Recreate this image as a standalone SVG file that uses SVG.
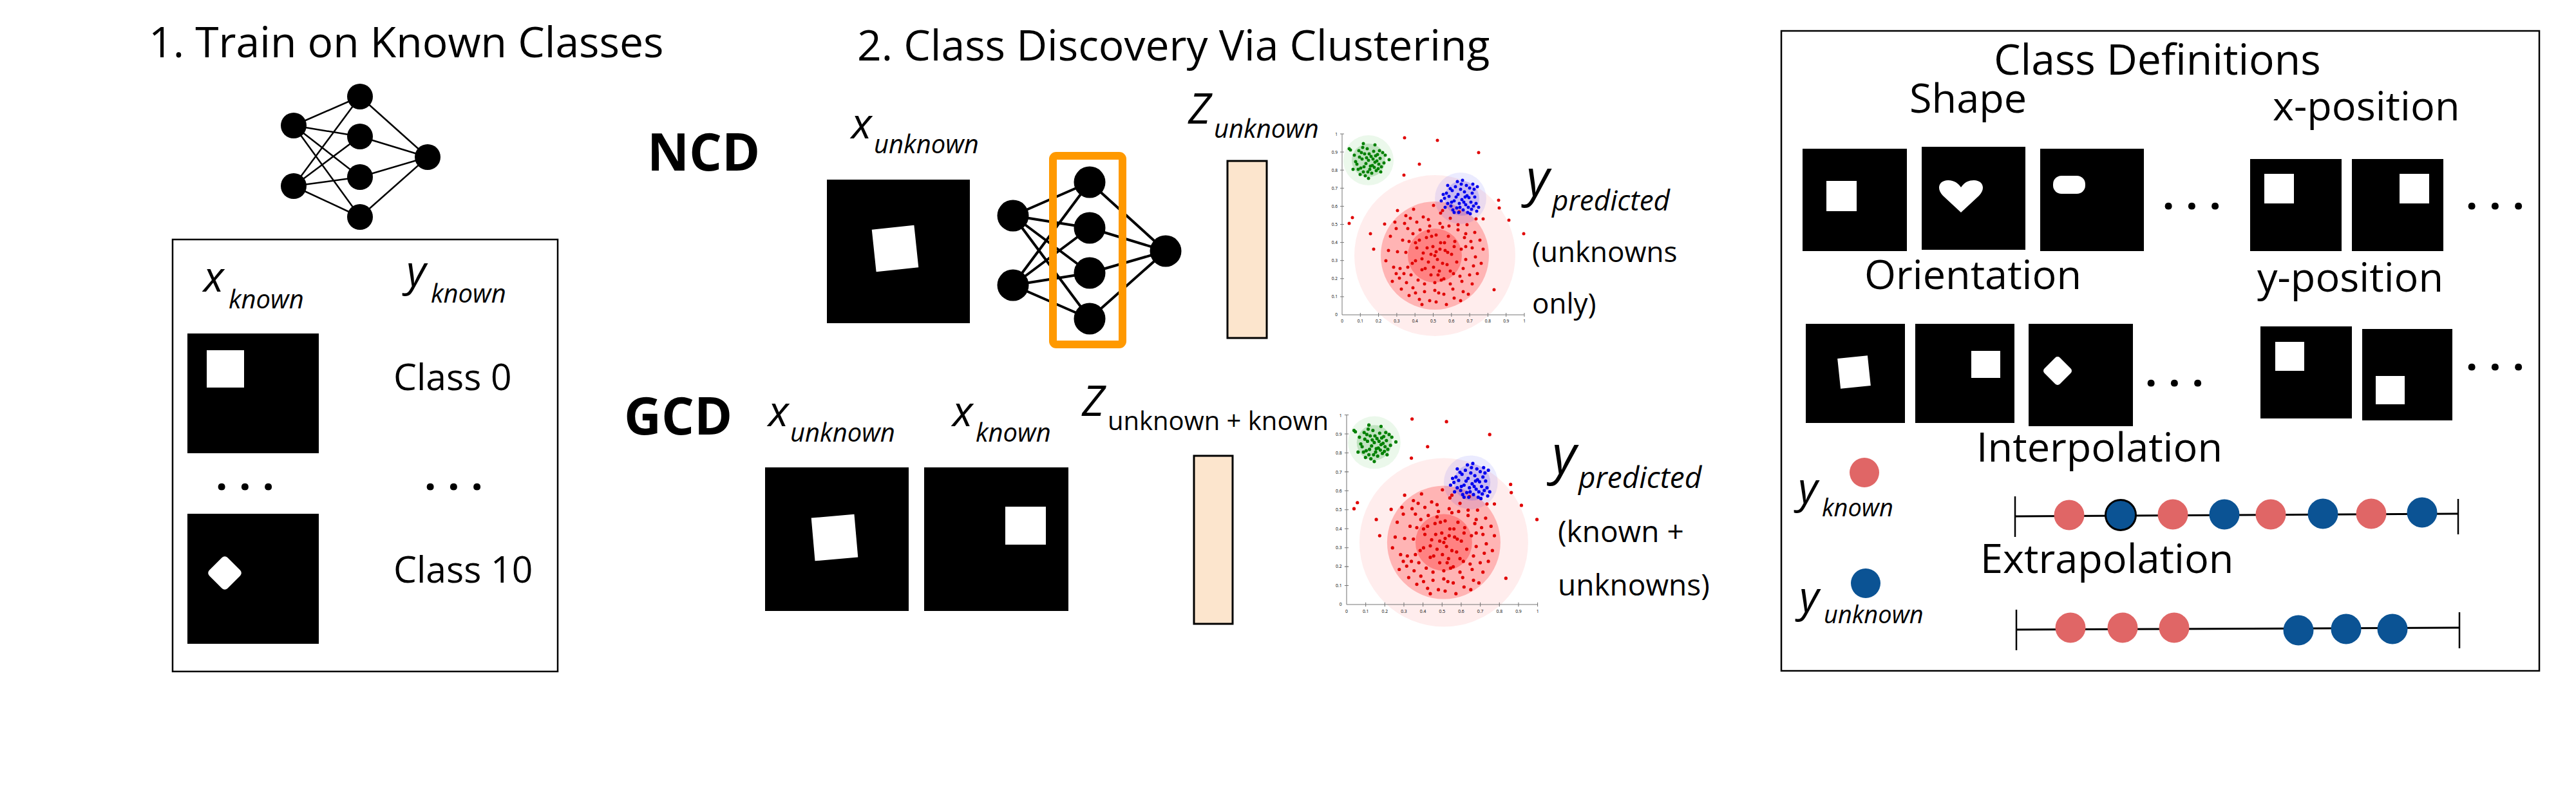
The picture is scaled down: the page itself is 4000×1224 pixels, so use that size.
<svg xmlns="http://www.w3.org/2000/svg" xmlns:xlink="http://www.w3.org/1999/xlink" width="4000" height="1224" viewBox="0 0 4000 1224">
<style>
text{font-family:"Open Sans","Noto Sans","DejaVu Sans",sans-serif;fill:#000}
.title{font-size:66px}
.lab{font-size:63px}
.big{font-size:80px;font-weight:700}
.it{font-style:italic}
.m{font-size:66px}
.s{font-size:40px}
.cls{font-size:57px}
.note{font-size:44px}
.dots{font-size:64px;font-weight:700;letter-spacing:18px}
.tick{font-size:6.5px;fill:#555}
.img{fill:#000}
.wh{fill:#fff}
.frame{fill:none;stroke:#000;stroke-width:2.5}
.node{fill:#000}
.e1{stroke:#000;stroke-width:2.5}
.e2{stroke:#000;stroke-width:4}
.zbar{fill:#FCE5CD;stroke:#000;stroke-width:3}
.kn{fill:#E06666}
.un{fill:#0B5394}
.axis{stroke:#000;stroke-width:3;fill:none}
.rd{stroke:#e00000;stroke-width:5;stroke-linecap:round;fill:none}
.gd{stroke:#008000;stroke-width:5;stroke-linecap:round;fill:none}
.bd{stroke:#0000ee;stroke-width:5;stroke-linecap:round;fill:none}
</style>
<defs>
<g id="plot">
<circle cx="144" cy="-92" r="125" fill="#ff0000" fill-opacity="0.07"/>
<circle cx="144" cy="-92" r="84" fill="#ff0000" fill-opacity="0.24"/>
<circle cx="144" cy="-92" r="42" fill="#ff0000" fill-opacity="0.28"/>
<circle cx="41" cy="-240" r="39" fill="#00a000" fill-opacity="0.08"/>
<circle cx="41" cy="-240" r="26" fill="#008000" fill-opacity="0.18"/>
<circle cx="184" cy="-181" r="40" fill="#0000ff" fill-opacity="0.08"/>
<circle cx="186" cy="-181" r="27" fill="#0000ff" fill-opacity="0.15"/>
<path d="M0 0V-281M0 0H283M-3 -28.1h6M-3 -56.2h6M-3 -84.3h6M-3 -112.4h6M-3 -140.5h6M-3 -168.6h6M-3 -196.7h6M-3 -224.8h6M-3 -252.9h6M-3 -281h6M28.3 -3v6M56.6 -3v6M84.9 -3v6M113.2 -3v6M141.5 -3v6M169.8 -3v6M198.1 -3v6M226.4 -3v6M254.7 -3v6M283 -3v6" stroke="#777" stroke-width="1" fill="none"/>
<g class="tick" text-anchor="end">
<text x="-7" y="2">0</text><text x="-7" y="-26">0.1</text><text x="-7" y="-54">0.2</text><text x="-7" y="-82">0.3</text><text x="-7" y="-110">0.4</text><text x="-7" y="-138">0.5</text><text x="-7" y="-166">0.6</text><text x="-7" y="-194">0.7</text><text x="-7" y="-222">0.8</text><text x="-7" y="-250">0.9</text><text x="-7" y="-278">1</text>
</g>
<g class="tick" text-anchor="middle">
<text x="0" y="12">0</text><text x="28.3" y="12">0.1</text><text x="56.6" y="12">0.2</text><text x="84.9" y="12">0.3</text><text x="113.2" y="12">0.4</text><text x="141.5" y="12">0.5</text><text x="169.8" y="12">0.6</text><text x="198.1" y="12">0.7</text><text x="226.4" y="12">0.8</text><text x="254.7" y="12">0.9</text><text x="283" y="12">1</text>
</g>
<path class="rd" transform="translate(144,-92)" d="M-72 -8h0M-64 18h0M-69 -30h0M-55 35h0M-60 -42h0M-52 52h0M-47 -50h0M-40 62h0M-45 -62h0M-30 58h0M-33 -72h0M-20 76h0M-18 -60h0M-8 70h0M-2 -78h0M6 58h0M12 -70h0M18 76h0M24 -58h0M30 66h0M38 -68h0M44 56h0M50 -48h0M58 44h0M62 -36h0M66 28h0M56 -22h0M72 12h0M75 -10h0M63 2h0M-76 8h0M-58 -6h0M-66 40h0M-38 -58h0M-24 68h0M2 72h0M40 70h0M70 -24h0M52 60h0M-62 -52h0M-54 20h0M-50 -24h0M-44 42h0M-42 -42h0M-34 50h0M-28 -52h0M-16 56h0M-10 -56h0M0 54h0M8 -50h0M14 60h0M22 -46h0M28 52h0M36 -48h0M42 40h0M48 -34h0M54 30h0M58 -12h0M60 16h0M-60 28h0M-45 -5h0M-42 18h0M-40 -22h0M-37 30h0M-34 -34h0M-30 8h0M-28 -12h0M-26 38h0M-23 -40h0M-20 22h0M-18 -4h0M-16 44h0M-13 -28h0M-10 10h0M-8 -46h0M-6 30h0M-3 -14h0M0 42h0M2 -32h0M4 6h0M7 24h0M9 -20h0M12 -44h0M14 36h0M16 -8h0M19 14h0M21 -30h0M24 44h0M26 -2h0M29 28h0M31 -22h0M34 10h0M36 -40h0M39 32h0M41 -10h0M44 20h0M46 -28h0M48 6h0M-35 12h0M-24 -24h0M-12 -12h0M0 0h0M12 12h0M24 24h0M-15 20h0M15 -20h0M-5 -30h0M5 30h0M-30 -20h0M30 -14h0M-48 28h0M48 -14h0M-10 -38h0M10 38h0M-2 18h0M2 -6h0M-20 5h0M20 -5h0M-6 -2h0M8 -10h0"/>
<path class="rd" d="M97 -275h0M148 -271h0M212 -252h0M120 -234h0M96 -217h0M243 -178h0M244 -166h0M259 -147h0M282 -126h0M236 -39h0M16 -151h0M11 -142h0M44 -126h0M49 -102h0M86 -162h0M66 -141h0M219 -149h0M208 -149h0M153 -158h0"/>
<path class="gd" transform="translate(41,-240)" d="M-22 -8h0M-18 6h0M-15 -15h0M-12 12h0M-10 -2h0M-8 18h0M-6 -10h0M-4 5h0M-2 -18h0M0 0h0M2 14h0M4 -6h0M6 8h0M8 -14h0M10 3h0M12 16h0M14 -9h0M16 6h0M18 -3h0M20 10h0M22 -12h0M-20 2h0M-16 14h0M-14 -5h0M-11 -12h0M-7 10h0M-3 -4h0M1 -10h0M3 9h0M5 20h0M7 -2h0M9 11h0M11 -7h0M13 1h0M15 13h0M17 -15h0M-24 14h0M-5 24h0M24 4h0M-9 -20h0M26 -8h0M-1 18h0M-13 22h0M19 18h0M-30 -18h0M32 -1h0M-8 -26h0M10 -24h0M0 28h0M-28 -16h0"/>
<path class="bd" transform="translate(184,-181)" d="M-25 0h0M-22 -8h0M-20 8h0M-18 -3h0M-15 12h0M-13 -12h0M-10 4h0M-8 -18h0M-6 15h0M-4 -6h0M-2 8h0M0 -14h0M2 2h0M4 18h0M6 -10h0M8 10h0M10 -4h0M12 14h0M14 -16h0M16 6h0M18 -8h0M20 12h0M22 -2h0M24 8h0M-16 -15h0M-12 18h0M-7 -2h0M-3 22h0M1 -22h0M5 6h0M9 -20h0M13 -1h0M17 17h0M21 -14h0M-27 -6h0M26 -18h0M-10 22h0M11 22h0M-20 -20h0M3 -28h0M28 14h0M-30 4h0M15 24h0M-5 -26h0M25 20h0M-24 14h0M-1 14h0M7 -2h0M19 -22h0M-14 6h0"/>
</g>
</defs>

<g id="connectors">
<g id="nn-train-edges">
<line class="e1" x1="456" y1="195" x2="559" y2="150"/><line class="e1" x1="456" y1="195" x2="559" y2="212"/><line class="e1" x1="456" y1="195" x2="559" y2="275"/><line class="e1" x1="456" y1="195" x2="559" y2="337"/>
<line class="e1" x1="456" y1="289" x2="559" y2="150"/><line class="e1" x1="456" y1="289" x2="559" y2="212"/><line class="e1" x1="456" y1="289" x2="559" y2="275"/><line class="e1" x1="456" y1="289" x2="559" y2="337"/>
<line class="e1" x1="559" y1="150" x2="664" y2="244"/><line class="e1" x1="559" y1="212" x2="664" y2="244"/><line class="e1" x1="559" y1="275" x2="664" y2="244"/><line class="e1" x1="559" y1="337" x2="664" y2="244"/>
</g>
<g id="nn-ncd-edges">
<line class="e2" x1="1573" y1="335" x2="1692" y2="283"/><line class="e2" x1="1573" y1="335" x2="1692" y2="354"/><line class="e2" x1="1573" y1="335" x2="1692" y2="424"/><line class="e2" x1="1573" y1="335" x2="1692" y2="495"/>
<line class="e2" x1="1573" y1="443" x2="1692" y2="283"/><line class="e2" x1="1573" y1="443" x2="1692" y2="354"/><line class="e2" x1="1573" y1="443" x2="1692" y2="424"/><line class="e2" x1="1573" y1="443" x2="1692" y2="495"/>
<line class="e2" x1="1692" y1="283" x2="1810" y2="390"/><line class="e2" x1="1692" y1="354" x2="1810" y2="390"/><line class="e2" x1="1692" y1="424" x2="1810" y2="390"/><line class="e2" x1="1692" y1="495" x2="1810" y2="390"/>
</g>
</g>

<g id="train">
<text class="title" x="231" y="89">1. Train on Known Classes</text>
<g id="nn-train">
<circle class="node" cx="456" cy="195" r="20"/><circle class="node" cx="456" cy="289" r="20"/>
<circle class="node" cx="559" cy="150" r="20"/><circle class="node" cx="559" cy="212" r="20"/><circle class="node" cx="559" cy="275" r="20"/><circle class="node" cx="559" cy="337" r="20"/>
<circle class="node" cx="664" cy="244" r="20"/>
</g>
<rect class="frame" x="268" y="372" width="598" height="671"/>
<text class="it"><tspan class="m" x="316" y="453">x</tspan><tspan class="s" x="355" y="479">known</tspan></text>
<text class="it"><tspan class="m" x="631" y="444">y</tspan><tspan class="s" x="669" y="470">known</tspan></text>
<rect class="img" x="291" y="518" width="204" height="186"/>
<rect class="wh" x="321" y="544" width="58" height="58"/>
<text class="cls" x="611" y="606">Class 0</text>
<text class="dots" x="335" y="761">...</text>
<text class="dots" x="659" y="761">...</text>
<rect class="img" x="291" y="798" width="204" height="202"/>
<rect class="wh" x="329" y="870" width="40" height="40" rx="6" transform="rotate(45 349 890)"/>
<text class="cls" x="611" y="905">Class 10</text>
</g>

<g id="discovery">
<text class="title" x="1331" y="94">2. Class Discovery Via Clustering</text>
<text class="big" x="1005" y="265">NCD</text>
<text class="big" x="969" y="675">GCD</text>
</g>

<g id="ncd">
<text class="it"><tspan class="m" x="1322" y="215">x</tspan><tspan class="s" x="1357" y="238">unknown</tspan></text>
<rect class="img" x="1284" y="279" width="222" height="223"/>
<rect class="wh" x="1357" y="353" width="66" height="66" transform="rotate(-6 1390 386)"/>
<rect x="1635" y="242" width="108" height="293" rx="5" fill="none" stroke="#FF9900" stroke-width="12"/>
<g id="nn-ncd">
<circle class="node" cx="1573" cy="335" r="24.5"/><circle class="node" cx="1573" cy="443" r="24.5"/>
<circle class="node" cx="1692" cy="283" r="24.5"/><circle class="node" cx="1692" cy="354" r="24.5"/><circle class="node" cx="1692" cy="424" r="24.5"/><circle class="node" cx="1692" cy="495" r="24.5"/>
<circle class="node" cx="1810" cy="390" r="24.5"/>
</g>
<text class="it"><tspan class="m" x="1845" y="192">Z</tspan><tspan class="s" x="1885" y="214">unknown</tspan></text>
<rect class="zbar" x="1906" y="250" width="61" height="275"/>
<use xlink:href="#plot" href="#plot" transform="translate(2084,489)"/>
<text class="it"><tspan x="2370" y="304" font-size="78">y</tspan><tspan x="2410" y="327" font-size="44">predicted</tspan></text>
<text class="note" x="2379" y="407">(unknowns</text>
<text class="note" x="2379" y="487">only)</text>
</g>

<g id="gcd">
<text class="it"><tspan class="m" x="1193" y="662">x</tspan><tspan class="s" x="1227" y="686">unknown</tspan></text>
<text class="it"><tspan class="m" x="1479" y="662">x</tspan><tspan class="s" x="1515" y="686">known</tspan></text>
<text><tspan class="m it" x="1680" y="646">Z</tspan><tspan class="s" x="1720" y="668">unknown + known</tspan></text>
<rect class="img" x="1188" y="726" width="223" height="223"/>
<rect class="wh" x="1262.5" y="801.5" width="67" height="67" transform="rotate(-5 1296 835)"/>
<rect class="img" x="1435" y="726" width="224" height="223"/>
<rect class="wh" x="1561" y="787" width="63" height="59"/>
<rect class="zbar" x="1854" y="708" width="60" height="261"/>
<use xlink:href="#plot" href="#plot" transform="translate(2091,939) scale(1.048)"/>
<text class="it"><tspan x="2410" y="735" font-size="82">y</tspan><tspan x="2451" y="758" font-size="46">predicted</tspan></text>
<text x="2419" y="842" font-size="46">(known +</text>
<text x="2419" y="925" font-size="46">unknowns)</text>
</g>

<g id="class-defs">
<rect class="frame" x="2766" y="48" width="1177" height="994"/>
<text class="title" x="3096" y="116">Class Definitions</text>
<text class="lab" x="2965" y="175">Shape</text>
<text class="lab" x="3529" y="187">x-position</text>
<rect class="img" x="2799" y="231" width="162" height="159"/>
<rect class="wh" x="2836" y="281" width="47" height="47"/>
<rect class="img" x="2984" y="228" width="161" height="160"/>
<path class="wh" d="M3045 330L3017 304C3006 293 3011 280 3025 280C3035 280 3041 285 3045 291C3049 285 3055 280 3065 280C3079 280 3084 293 3073 304Z"/>
<rect class="img" x="3168" y="231" width="161" height="159"/>
<rect class="wh" x="3188" y="273" width="50" height="28" rx="13"/>
<text class="dots" x="3358" y="325">...</text>
<rect class="img" x="3494" y="247" width="142" height="143"/>
<rect class="wh" x="3516" y="270" width="46" height="46"/>
<rect class="img" x="3652" y="247" width="142" height="143"/>
<rect class="wh" x="3726" y="270" width="46" height="46"/>
<text class="dots" x="3829" y="325">...</text>
<text class="lab" x="2895" y="449">Orientation</text>
<text class="lab" x="3505" y="453">y-position</text>
<rect class="img" x="2804" y="503" width="154" height="154"/>
<rect class="wh" x="2855.5" y="554.5" width="47" height="47" transform="rotate(-6 2879 578)"/>
<rect class="img" x="2974" y="503" width="154" height="154"/>
<rect class="wh" x="3061" y="545" width="45" height="42"/>
<rect class="img" x="3150" y="503" width="162" height="159"/>
<rect class="wh" x="3178" y="559" width="34" height="34" rx="5" transform="rotate(45 3195 576)"/>
<text class="dots" x="3331" y="600">...</text>
<rect class="img" x="3510" y="507" width="142" height="143"/>
<rect class="wh" x="3533" y="531" width="45" height="45"/>
<rect class="img" x="3668" y="511" width="140" height="142"/>
<rect class="wh" x="3689" y="584" width="45" height="44"/>
<text class="dots" x="3829" y="575">...</text>
<text class="lab" x="3069" y="717">Interpolation</text>
<text class="lab" x="3075" y="890">Extrapolation</text>
<text class="it"><tspan x="2792" y="781" font-size="66">y</tspan><tspan x="2829" y="802" font-size="38">known</tspan></text>
<circle class="kn" cx="2895" cy="734" r="23"/>
<text class="it"><tspan x="2794" y="950" font-size="66">y</tspan><tspan x="2832" y="968" font-size="38">unknown</tspan></text>
<circle class="un" cx="2897" cy="906" r="23"/>
<g id="interp">
<path class="axis" d="M3129 802L3817 798"/>
<path d="M3129 771V834M3817 775V830" stroke="#000" stroke-width="2.5"/>
<circle class="kn" cx="3213" cy="800" r="23.5"/>
<circle class="un" cx="3293" cy="800" r="23.5" stroke="#000" stroke-width="3"/>
<circle class="kn" cx="3374" cy="799" r="23.5"/>
<circle class="un" cx="3454" cy="799" r="23.5"/>
<circle class="kn" cx="3526" cy="799" r="23.5"/>
<circle class="un" cx="3607" cy="798" r="23.5"/>
<circle class="kn" cx="3682" cy="798" r="23.5"/>
<circle class="un" cx="3761" cy="796" r="23.5"/>
</g>
<g id="extrap">
<path class="axis" d="M3131 978L3819 975"/>
<path d="M3131 947V1010M3819 951V1007" stroke="#000" stroke-width="2.5"/>
<circle class="kn" cx="3215" cy="975" r="23.5"/>
<circle class="kn" cx="3296" cy="975" r="23.5"/>
<circle class="kn" cx="3376" cy="975" r="23.5"/>
<circle class="un" cx="3569" cy="979" r="23.5"/>
<circle class="un" cx="3643" cy="977" r="23.5"/>
<circle class="un" cx="3715" cy="977" r="23.5"/>
</g>
</g>
</svg>
